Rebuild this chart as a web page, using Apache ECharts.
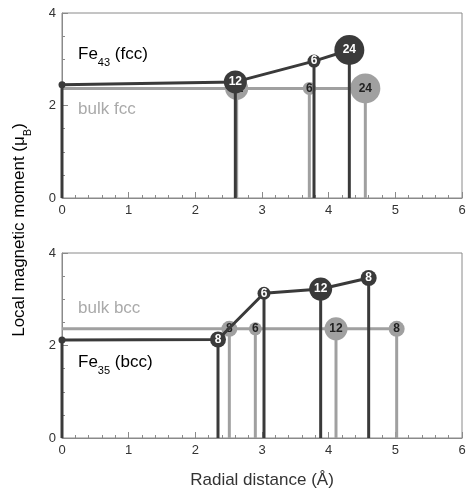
<!DOCTYPE html>
<html><head><meta charset="utf-8">
<script src="https://cdn.jsdelivr.net/npm/echarts@6/dist/echarts.min.js"></script>
<style>html,body{margin:0;padding:0;background:#fff}#c{width:474px;height:498px}</style>
</head><body><div id="c"></div>
<script>
// ---- data ----
const xTicks = [0, 1, 2, 3, 4, 5, 6];
const yTicks = [0, 2, 4];
// top panel: Fe43 cluster (fcc) vs bulk fcc
const fe43R = [0, 2.60, 3.78, 4.31];
const fe43M = [2.45, 2.51, 2.96, 3.20];
const fe43N = [0, 12, 6, 24];
const fccR  = [0, 2.62, 3.71, 4.55];
const fccM  = [2.37, 2.37, 2.37, 2.37];
const fccN  = [0, 12, 6, 24];
// bottom panel: Fe35 cluster (bcc) vs bulk bcc
const fe35R = [0, 2.34, 3.03, 3.88, 4.60];
const fe35M = [2.12, 2.13, 3.13, 3.22, 3.46];
const fe35N = [0, 8, 6, 12, 8];
const bccR  = [0, 2.51, 2.90, 4.11, 5.02];
const bccM  = [2.36, 2.36, 2.36, 2.36, 2.36];
const bccN  = [0, 8, 6, 12, 8];

const DARK = '#3a3a3a', GRAY = '#a0a0a0', AXIS = '#8a8a8a', TXT = '#333';
const FONT = 'Liberation Sans, Arial, sans-serif';
const sizeFor = n => ({0: 7, 6: 13, 8: 16, 12: 23, 24: 30})[n] || 12;

function pts(r, m, n) { return r.map((x, i) => [x, m[i], n[i]]); }

function mkSeries(gi, r, m, n, color, labelColor, isDark) {
  const data = pts(r, m, n);
  const z = isDark ? 10 : 2;
  return [
    { type: 'line', xAxisIndex: gi, yAxisIndex: gi, data: data.map(d => [d[0], d[1]]),
      symbol: 'none', lineStyle: { color: color, width: 3 }, z: z, silent: true, animation: false },
    { type: 'custom', xAxisIndex: gi, yAxisIndex: gi, z: z,
      data: data.filter(d => isDark || d[2] > 0),
      encode: { x: 0, y: 1 },
      renderItem: (p, api) => {
        const a = api.coord([api.value(0), api.value(1)]);
        const b = api.coord([api.value(0), 0]);
        return { type: 'line', shape: { x1: a[0], y1: a[1], x2: b[0], y2: b[1] },
                 style: { stroke: color, lineWidth: 3 } };
      }, animation: false },
    { type: 'scatter', xAxisIndex: gi, yAxisIndex: gi, z: z + 1,
      data: data.filter(d => isDark || d[2] > 0),
      symbolSize: v => sizeFor(v[2]),
      itemStyle: { color: color, opacity: 1 },
      label: { show: true, position: 'inside', color: labelColor, fontFamily: FONT,
               fontSize: 12, fontWeight: 'bold',
               formatter: p => p.value[2] > 0 ? String(p.value[2]) : '' },
      animation: false }
  ];
}

function xAx(gi, withName) {
  return {
    type: 'value', gridIndex: gi, min: 0, max: 6, interval: 1,
    axisLine: { show: true, lineStyle: { color: AXIS, width: 1 } },
    axisTick: { show: true, inside: true, length: 6, lineStyle: { color: AXIS } },
    minorTick: { show: true, splitNumber: 5, length: 3, lineStyle: { color: AXIS } },
    axisLabel: { color: TXT, fontFamily: FONT, fontSize: 13, margin: 6,
                 formatter: v => xTicks.includes(v) ? String(v) : '' },
    splitLine: { show: false },
    name: withName ? 'Radial distance (Å)' : '', nameLocation: 'middle', nameGap: 34,
    nameTextStyle: { color: TXT, fontFamily: FONT, fontSize: 17 }
  };
}
function yAx(gi) {
  return {
    type: 'value', gridIndex: gi, min: 0, max: 4, interval: 2,
    axisLine: { show: true, lineStyle: { color: AXIS, width: 1 } },
    axisTick: { show: true, inside: true, length: 6, lineStyle: { color: AXIS } },
    minorTick: { show: true, splitNumber: 4, length: 3, lineStyle: { color: AXIS } },
    axisLabel: { color: TXT, fontFamily: FONT, fontSize: 13, margin: 6,
                 formatter: v => yTicks.includes(v) ? String(v) : '' },
    splitLine: { show: false }
  };
}

const chart = echarts.init(document.getElementById('c'), null, { renderer: 'canvas' });
const rich = {
  d: { fontFamily: FONT, fontSize: 17, color: '#444', verticalAlign: 'bottom', lineHeight: 22 },
  ds: { fontFamily: FONT, fontSize: 11, color: '#444', verticalAlign: 'bottom', lineHeight: 15, padding: [0, 0, -5, 0] }
};
chart.setOption({
  animation: false,
  grid: [
    { left: 62, top: 13, width: 400, height: 185, show: true, borderColor: AXIS, borderWidth: 1, backgroundColor: 'transparent' },
    { left: 62, top: 253, width: 400, height: 185, show: true, borderColor: AXIS, borderWidth: 1, backgroundColor: 'transparent' }
  ],
  xAxis: [xAx(0, false), xAx(1, true)],
  yAxis: [yAx(0), yAx(1)],
  series: [].concat(
    mkSeries(0, fccR, fccM, fccN, GRAY, '#222', false),
    mkSeries(0, fe43R, fe43M, fe43N, DARK, '#fff', true),
    mkSeries(1, bccR, bccM, bccN, GRAY, '#222', false),
    mkSeries(1, fe35R, fe35M, fe35N, DARK, '#fff', true)
  ),
  graphic: [
    { type: 'text', left: 78, top: 46, style: { text: '{d|Fe}{ds|43}{d| (fcc)}', rich: rich } },
    { type: 'text', left: 78, top: 101, style: { text: 'bulk fcc', fontFamily: FONT, fontSize: 17, fill: '#aaa' } },
    { type: 'text', left: 78, top: 300, style: { text: 'bulk bcc', fontFamily: FONT, fontSize: 17, fill: '#aaa' } },
    { type: 'text', left: 78, top: 354, style: { text: '{d|Fe}{ds|35}{d| (bcc)}', rich: rich } },
    { type: 'text', x: 18, y: 230, rotation: Math.PI / 2,
      style: { text: '{m|Local magnetic moment (μ}{s|B}{m|)}', align: 'center', verticalAlign: 'middle',
               rich: { m: { fontFamily: FONT, fontSize: 17, color: TXT, verticalAlign: 'bottom', lineHeight: 20 },
                       s: { fontFamily: FONT, fontSize: 11, color: TXT, verticalAlign: 'bottom', lineHeight: 14, padding: [0,0,-5,0] } } } }
  ]
});
</script></body></html>
